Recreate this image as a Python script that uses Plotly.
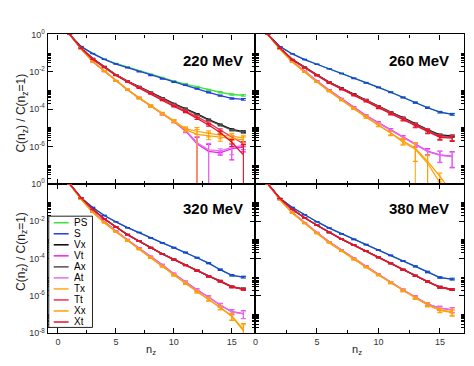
import plotly.graph_objects as go

W, H = 474, 366

# ---------------- data ----------------
n_z = list(range(1, 17))
series_names = ["PS", "S", "Vx", "Vt", "Ax", "At", "Tx", "Tt", "Xx", "Xt"]
series_colors = ["#3fe33f", "#1f3fe0", "#000000", "#f020f0", "#505050",
                 "#e070f0", "#ffa81c", "#f0304a", "#ffa000", "#e8102a"]
panel_labels = ["220 MeV", "260 MeV", "320 MeV", "380 MeV"]
x_tick_vals = [0, 5, 10, 15]
y_label_decades = [0, -2, -4, -6, -8]

# log10 of C(n_z)/C(n_z=1)
PS_220 = [0, -0.65, -1.02, -1.32, -1.56, -1.75, -1.96, -2.14, -2.32, -2.50, -2.66, -2.81, -2.97, -3.10, -3.22, -3.26]
S_220 = [0, -0.66, -1.03, -1.34, -1.59, -1.78, -2.00, -2.19, -2.38, -2.55, -2.72, -2.91, -3.10, -3.28, -3.43, -3.48]
Vx_220 = [0, -0.72, -1.29, -1.72, -2.16, -2.50, -2.79, -3.10, -3.40, -3.71, -3.97, -4.26, -4.57, -4.83, -5.09, -5.21]
Vt_220 = [0, -0.78, -1.47, -1.98, -2.50, -2.97, -3.41, -3.84, -4.26, -4.66, -5.17, -5.86, -6.26, -6.34, -6.12, -6.03]
Ax_220 = [0, -0.73, -1.30, -1.74, -2.17, -2.52, -2.81, -3.12, -3.42, -3.73, -4.00, -4.30, -4.60, -4.87, -5.13, -5.25]
At_220 = [0, -0.78, -1.46, -1.97, -2.49, -2.96, -3.40, -3.83, -4.25, -4.64, -5.12, -5.80, -6.18, -6.24, -6.05, -5.95]
Tx_220 = [0, -0.78, -1.45, -1.96, -2.48, -2.95, -3.39, -3.82, -4.22, -4.62, -5.05, -5.20, -5.30, -5.40, -5.45, -5.55]
Tt_220 = [0, -0.74, -1.32, -1.76, -2.18, -2.52, -2.84, -3.14, -3.47, -3.80, -4.09, -4.40, -4.74, -5.12, -5.48, -5.86]
Xx_220 = [0, -0.79, -1.46, -1.98, -2.50, -2.97, -3.42, -3.85, -4.25, -4.66, -5.10, -5.35, -5.42, -5.50, -5.58, -5.65]
Xt_220 = [0, -0.75, -1.34, -1.78, -2.20, -2.55, -2.88, -3.18, -3.52, -3.86, -4.15, -4.50, -4.85, -5.25, -5.78, -6.45]

PS_260 = [0, -0.66, -1.05, -1.35, -1.60, -1.84, -2.09, -2.35, -2.59, -2.83, -3.09, -3.37, -3.65, -3.92, -4.16, -4.27]
S_260 = [0, -0.66, -1.05, -1.35, -1.60, -1.84, -2.10, -2.36, -2.60, -2.84, -3.10, -3.38, -3.66, -3.93, -4.17, -4.28]
Vx_260 = [0, -0.72, -1.34, -1.76, -2.16, -2.55, -2.88, -3.19, -3.50, -3.83, -4.16, -4.45, -4.78, -5.10, -5.38, -5.43]
Vt_260 = [0, -0.78, -1.45, -1.98, -2.50, -2.98, -3.45, -3.90, -4.35, -4.72, -5.10, -5.50, -5.90, -6.25, -6.45, -6.52]
Ax_260 = [0, -0.73, -1.35, -1.77, -2.18, -2.57, -2.90, -3.21, -3.52, -3.85, -4.18, -4.48, -4.81, -5.13, -5.42, -5.47]
At_260 = [0, -0.79, -1.46, -1.99, -2.51, -3.00, -3.47, -3.92, -4.37, -4.75, -5.13, -5.52, -5.93, -6.28, -6.48, -6.55]
Tx_260 = [0, -0.80, -1.48, -2.02, -2.55, -3.04, -3.52, -3.98, -4.42, -4.85, -5.28, -5.78, -6.15, -6.90, -7.95, -8.80]
Tt_260 = [0, -0.74, -1.36, -1.79, -2.19, -2.58, -2.92, -3.24, -3.55, -3.89, -4.22, -4.52, -4.86, -5.17, -5.48, -5.52]
Xx_260 = [0, -0.80, -1.48, -2.02, -2.55, -3.04, -3.52, -3.98, -4.43, -4.87, -5.30, -5.70, -6.10, -6.80, -7.60, -8.50]
Xt_260 = [0, -0.75, -1.37, -1.80, -2.20, -2.60, -2.94, -3.26, -3.58, -3.92, -4.25, -4.56, -4.90, -5.20, -5.52, -5.56]

PS_320 = [0, -0.75, -1.27, -1.70, -2.04, -2.35, -2.61, -2.90, -3.16, -3.42, -3.68, -3.96, -4.25, -4.60, -4.90, -5.00]
S_320 = [0, -0.75, -1.27, -1.70, -2.04, -2.35, -2.61, -2.90, -3.16, -3.42, -3.68, -3.96, -4.25, -4.60, -4.90, -5.00]
Vx_320 = [0, -0.77, -1.37, -1.87, -2.30, -2.72, -3.07, -3.42, -3.75, -4.05, -4.35, -4.65, -4.94, -5.20, -5.51, -5.63]
Vt_320 = [0, -0.82, -1.50, -2.04, -2.53, -3.00, -3.44, -3.90, -4.34, -4.82, -5.25, -5.68, -6.06, -6.49, -6.85, -6.95]
Ax_320 = [0, -0.77, -1.37, -1.87, -2.30, -2.72, -3.07, -3.42, -3.75, -4.05, -4.35, -4.65, -4.95, -5.21, -5.52, -5.64]
At_320 = [0, -0.82, -1.51, -2.05, -2.54, -3.01, -3.45, -3.91, -4.35, -4.83, -5.26, -5.69, -6.07, -6.50, -6.86, -6.96]
Tx_320 = [0, -0.83, -1.53, -2.08, -2.57, -3.05, -3.50, -3.96, -4.41, -4.89, -5.33, -5.77, -6.18, -6.62, -7.10, -7.87]
Tt_320 = [0, -0.77, -1.38, -1.88, -2.31, -2.73, -3.08, -3.43, -3.76, -4.06, -4.36, -4.66, -4.96, -5.22, -5.52, -5.65]
Xx_320 = [0, -0.83, -1.53, -2.08, -2.57, -3.05, -3.50, -3.96, -4.41, -4.89, -5.33, -5.77, -6.18, -6.62, -7.08, -7.80]
Xt_320 = [0, -0.77, -1.38, -1.88, -2.31, -2.73, -3.08, -3.43, -3.76, -4.06, -4.36, -4.66, -4.96, -5.22, -5.52, -5.65]

PS_380 = [0, -0.78, -1.27, -1.66, -2.03, -2.37, -2.68, -2.97, -3.26, -3.55, -3.83, -4.13, -4.42, -4.72, -5.02, -5.10]
S_380 = [0, -0.78, -1.27, -1.66, -2.03, -2.37, -2.68, -2.97, -3.26, -3.55, -3.83, -4.13, -4.42, -4.72, -5.02, -5.10]
Vx_380 = [0, -0.80, -1.37, -1.82, -2.22, -2.61, -2.96, -3.28, -3.61, -3.94, -4.26, -4.60, -4.93, -5.24, -5.53, -5.66]
Vt_380 = [0, -0.85, -1.54, -2.10, -2.61, -3.11, -3.56, -4.01, -4.42, -4.84, -5.27, -5.68, -6.06, -6.44, -6.66, -6.75]
Ax_380 = [0, -0.80, -1.37, -1.82, -2.22, -2.61, -2.96, -3.28, -3.61, -3.94, -4.26, -4.60, -4.93, -5.24, -5.53, -5.66]
At_380 = [0, -0.85, -1.54, -2.10, -2.61, -3.11, -3.56, -4.01, -4.42, -4.84, -5.27, -5.68, -6.06, -6.44, -6.66, -6.75]
Tx_380 = [0, -0.86, -1.56, -2.13, -2.65, -3.15, -3.60, -4.05, -4.46, -4.88, -5.30, -5.72, -6.10, -6.48, -6.75, -6.85]
Tt_380 = [0, -0.80, -1.37, -1.82, -2.22, -2.61, -2.96, -3.28, -3.61, -3.94, -4.26, -4.60, -4.93, -5.24, -5.54, -5.66]
Xx_380 = [0, -0.86, -1.56, -2.13, -2.65, -3.15, -3.60, -4.05, -4.46, -4.88, -5.30, -5.72, -6.10, -6.48, -6.78, -6.90]
Xt_380 = [0, -0.80, -1.37, -1.82, -2.22, -2.61, -2.96, -3.28, -3.61, -3.94, -4.26, -4.60, -4.93, -5.24, -5.54, -5.66]

# relative statistical errors (error / value)
ERR_SMALL = [0, 0.01, 0.01, 0.02, 0.02, 0.03, 0.03, 0.04, 0.04, 0.05, 0.05, 0.06, 0.07, 0.08, 0.09, 0.10]
ERR_MID = [0, 0.02, 0.03, 0.04, 0.05, 0.06, 0.07, 0.08, 0.10, 0.12, 0.14, 0.17, 0.20, 0.24, 0.28, 0.32]
Vt_220_err = [0, 0.02, 0.03, 0.04, 0.05, 0.06, 0.08, 0.10, 0.12, 0.15, 0.20, 1.20, 1.30, 0.25, 0.75, 0.45]
At_220_err = [0, 0.02, 0.03, 0.04, 0.05, 0.06, 0.08, 0.10, 0.12, 0.15, 0.20, 1.10, 1.20, 0.30, 0.60, 0.40]
Tx_220_err = [0, 0.02, 0.03, 0.04, 0.05, 0.06, 0.08, 0.10, 0.12, 0.15, 0.25, 0.30, 0.35, 0.35, 0.40, 0.40]
Xx_220_err = [0, 0.02, 0.03, 0.04, 0.05, 0.06, 0.08, 0.10, 0.12, 0.15, 0.25, 1.30, 0.40, 0.40, 0.45, 0.45]
Tt_220_err = [0, 0.01, 0.02, 0.02, 0.03, 0.03, 0.04, 0.05, 0.06, 0.07, 0.08, 0.10, 0.12, 0.15, 0.20, 0.30]
Xt_220_err = [0, 0.01, 0.02, 0.02, 0.03, 0.03, 0.04, 0.05, 0.06, 0.07, 0.09, 0.11, 0.14, 0.18, 0.40, 2.50]
Vt_260_err = [0, 0.02, 0.03, 0.04, 0.05, 0.06, 0.07, 0.08, 0.10, 0.12, 0.15, 0.20, 0.25, 0.35, 0.60, 0.75]
Tx_260_err = [0, 0.02, 0.03, 0.04, 0.05, 0.06, 0.08, 0.10, 0.12, 0.15, 0.20, 0.30, 1.20, 1.50, 0.50, 0.50]
Xx_260_err = [0, 0.02, 0.03, 0.04, 0.05, 0.06, 0.08, 0.10, 0.12, 0.15, 0.25, 0.35, 0.80, 1.20, 0.50, 0.50]
Vt_320_err = [0, 0.02, 0.02, 0.03, 0.04, 0.05, 0.06, 0.07, 0.08, 0.10, 0.12, 0.14, 0.17, 0.22, 0.30, 0.45]
Tx_320_err = [0, 0.02, 0.02, 0.03, 0.04, 0.05, 0.06, 0.07, 0.08, 0.10, 0.12, 0.15, 0.18, 0.25, 0.40, 1.10]
Vt_380_err = [0, 0.02, 0.02, 0.03, 0.04, 0.05, 0.06, 0.07, 0.08, 0.09, 0.10, 0.12, 0.15, 0.20, 0.25, 0.30]
Tx_380_err = [0, 0.02, 0.02, 0.03, 0.04, 0.05, 0.06, 0.07, 0.08, 0.09, 0.10, 0.13, 0.16, 0.20, 0.25, 0.35]

panels = [
    [(PS_220, ERR_SMALL), (S_220, ERR_SMALL), (Vx_220, ERR_SMALL), (Vt_220, Vt_220_err),
     (Ax_220, ERR_SMALL), (At_220, At_220_err), (Tx_220, Tx_220_err), (Tt_220, Tt_220_err),
     (Xx_220, Xx_220_err), (Xt_220, Xt_220_err)],
    [(PS_260, ERR_SMALL), (S_260, ERR_SMALL), (Vx_260, ERR_SMALL), (Vt_260, Vt_260_err),
     (Ax_260, ERR_SMALL), (At_260, Vt_260_err), (Tx_260, Tx_260_err), (Tt_260, ERR_MID),
     (Xx_260, Xx_260_err), (Xt_260, ERR_MID)],
    [(PS_320, ERR_SMALL), (S_320, ERR_SMALL), (Vx_320, ERR_SMALL), (Vt_320, Vt_320_err),
     (Ax_320, ERR_SMALL), (At_320, Vt_320_err), (Tx_320, Tx_320_err), (Tt_320, ERR_SMALL),
     (Xx_320, Tx_320_err), (Xt_320, ERR_SMALL)],
    [(PS_380, ERR_SMALL), (S_380, ERR_SMALL), (Vx_380, ERR_SMALL), (Vt_380, Vt_380_err),
     (Ax_380, ERR_SMALL), (At_380, Vt_380_err), (Tx_380, Tx_380_err), (Tt_380, ERR_SMALL),
     (Xx_380, Tx_380_err), (Xt_380, ERR_SMALL)],
]

# ---------------- layout geometry (pixels) ----------------
def px(x):
    return x / W

def py(y):
    return 1 - y / H

X_LEFT = [px(37), px(246)]
X_RIGHT = [px(246), px(456)]
Y_TOP = [py(174.5), py(20)]
Y_BOT = [py(329), py(174.5)]
FONT = "Liberation Sans, Arial, Helvetica, sans-serif"

fig = go.Figure()
suffixes = ["", "2", "3", "4"]
for p, series in enumerate(panels):
    s = suffixes[p]
    for (vals, rel), name, col in zip(series, series_names, series_colors):
        yv = [10 ** v for v in vals]
        err = [r * y for r, y in zip(rel, yv)]
        fig.add_trace(go.Scatter(
            x=n_z, y=yv, mode="lines", name=name, showlegend=False,
            line=dict(color=col, width=1.3),
            error_y=dict(type="data", array=err, visible=True, color=col,
                         thickness=1.1, width=2.5),
            xaxis="x" + s, yaxis="y" + s))

# odd decades + 2..9 minor ticks just below each labelled decade
minor_y_base = [10.0 ** k for k in (-1, -3, -5, -7)] + \
    [m * 10.0 ** k for k in (-2, -4, -6, -8) for m in range(2, 10)]


def xaxis(domain, rng, anchor, labels):
    return dict(domain=domain, range=rng, anchor=anchor, showline=True, linecolor="black",
                linewidth=1.4, mirror="ticks", ticks="inside", ticklen=5, tickwidth=1,
                tickcolor="black", tickmode="array", tickvals=x_tick_vals,
                showticklabels=labels, showgrid=False, zeroline=False,
                tickfont=dict(family=FONT, size=9, color="#333"),
                minor=dict(ticks="inside", ticklen=3, tickwidth=1, tickcolor="black",
                           dtick=2.5, tick0=0, showgrid=False))


def yaxis(domain, anchor, labels, top):
    decs = [k for k in y_label_decades if not (top and k == -8)]
    minor = list(minor_y_base) + ([1e-8] if top else [])
    return dict(domain=domain, type="log", range=[-8, 0], anchor=anchor, showline=True,
                linecolor="black", linewidth=1.4, mirror="ticks", ticks="inside", ticklen=5,
                tickwidth=1, tickcolor="black", tickmode="array",
                tickvals=[10.0 ** k for k in decs],
                ticktext=["10<sup>%d</sup>" % k for k in decs],
                showticklabels=labels, showgrid=False, zeroline=False,
                tickfont=dict(family=FONT, size=9, color="#333"),
                minor=dict(ticks="inside", ticklen=3, tickwidth=0.8, tickcolor="black",
                           tickmode="array", tickvals=minor, showgrid=False))


fig.update_layout(
    width=W, height=H, margin=dict(l=0, r=0, t=0, b=0),
    paper_bgcolor="white", plot_bgcolor="white", showlegend=False,
    xaxis=xaxis(X_LEFT, [-0.88, 17.04], "y", False),
    yaxis=yaxis(Y_TOP, "x", True, True),
    xaxis2=xaxis(X_RIGHT, [0, 16.97], "y2", False),
    yaxis2=yaxis(Y_TOP, "x2", False, True),
    xaxis3=xaxis(X_LEFT, [-0.88, 17.04], "y3", True),
    yaxis3=yaxis(Y_BOT, "x3", True, False),
    xaxis4=xaxis(X_RIGHT, [0, 16.97], "y4", True),
    yaxis4=yaxis(Y_BOT, "x4", False, False),
)

ann = []
# panel labels
label_pos = [(235, 47), (443, 47), (235, 200), (443, 200)]
for lab, (xr, yc) in zip(panel_labels, label_pos):
    ann.append(dict(text="<b>%s</b>" % lab, x=px(xr), y=py(yc), xref="paper", yref="paper",
                    xanchor="right", yanchor="middle", showarrow=False,
                    font=dict(family=FONT, size=15, color="black")))
# axis titles
for yc in (101, 244):
    ann.append(dict(text="C(n<sub>z</sub>) / C(n<sub>z</sub>=1)", x=px(11), y=py(yc),
                    xref="paper", yref="paper", textangle=-90, showarrow=False,
                    xanchor="center", yanchor="middle",
                    font=dict(family=FONT, size=12, color="#222")))
for xc in (141, 348):
    ann.append(dict(text="n<sub>z</sub>", x=px(xc), y=py(346), xref="paper", yref="paper",
                    showarrow=False, xanchor="center", yanchor="middle",
                    font=dict(family=FONT, size=11, color="#222")))

# legend box (bottom-left panel)
shapes = [dict(type="rect", xref="paper", yref="paper", x0=px(38), x1=px(82),
               y0=py(323), y1=py(208), line=dict(color="#222", width=1),
               fillcolor="white", layer="above")]
for i, (name, col) in enumerate(zip(series_names, series_colors)):
    yc = 214.8 + i * 11.4
    shapes.append(dict(type="line", xref="paper", yref="paper", x0=px(43), x1=px(58),
                       y0=py(yc), y1=py(yc), line=dict(color=col, width=1.5), layer="above"))
    ann.append(dict(text=name, x=px(62), y=py(yc), xref="paper", yref="paper",
                    xanchor="left", yanchor="middle", showarrow=False,
                    height=11, borderpad=0, valign="middle",
                    font=dict(family=FONT, size=10, color="black")))

fig.update_layout(annotations=ann, shapes=shapes)
fig.write_html("out.html")
